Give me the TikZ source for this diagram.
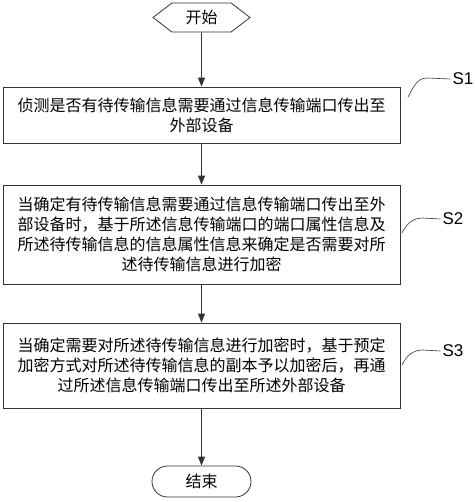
\documentclass[tikz,border=0pt]{standalone}
\usepackage{fontspec}
\setmainfont{Liberation Sans}
\newfontfamily\cjk{Noto Sans CJK SC}
\usetikzlibrary{shapes.symbols,shapes.misc,arrows.meta}

\begin{document}
\begin{tikzpicture}[
  x=1pt, y=-1pt,
  stepbox/.style={draw=black!80, line width=0.8pt, minimum width=397pt,
    inner sep=0pt, align=center, font=\cjk\fontsize{16}{20}\selectfont},
  terminal/.style={draw=black!80, line width=0.8pt, inner sep=0pt,
    font=\cjk\fontsize{16}{20}\selectfont},
  flow/.style={draw=black!80, line width=0.9pt,
    -{Triangle[length=9pt,width=7pt]}},
  tag/.style={draw=black!80, line width=0.6pt},
  steplabel/.style={font=\fontsize{17}{17}\selectfont, inner sep=2pt}
]
  \useasboundingbox (0,0) rectangle (474,502);

  % start and end
  \node[terminal, shape=signal, signal to=west and east,
    signal pointer angle=75, minimum width=97pt, minimum height=29pt]
    (start) at (201.5,17.5) {开始};
  \node[terminal, shape=rounded rectangle, minimum width=99pt,
    minimum height=31pt] (end) at (201.5,481.5) {结束};

  % the three steps
  \node[stepbox, minimum height=56pt] (b1) at (201.5,115)
    {侦测是否有待传输信息需要通过信息传输端口传出至\\外部设备};
  \node[stepbox, minimum height=99pt] (b2) at (201.5,234.5)
    {当确定有待传输信息需要通过信息传输端口传出至外\\
     部设备时，基于所述信息传输端口的端口属性信息及\\
     所述待传输信息的信息属性信息来确定是否需要对所\\
     述待传输信息进行加密};
  \node[stepbox, minimum height=85pt] (b3) at (201.5,365.5)
    {当确定需要对所述待传输信息进行加密时，基于预定\\
     加密方式对所述待传输信息的副本予以加密后，再通\\
     过所述信息传输端口传出至所述外部设备};

  % step labels
  \node[steplabel] (s1) at (463,79) {S1};
  \node[steplabel] (s2) at (453,219) {S2};
  \node[steplabel] (s3) at (453,351) {S3};

  \coordinate (t1) at (408,97);
  \coordinate (t2) at (402,233);
  \coordinate (t3) at (402,365);

  \draw[tag] (t1) to[out=60,in=180] ++(19,-19) -- (s1.west);
  \draw[tag] (t2) to[out=65,in=180] ++(21,-15) -- (s2.west);
  \draw[tag] (t3) to[out=65,in=180] ++(21,-15) -- (s3.west);

  % flow
  \draw[flow] (start) -- (b1);
  \draw[flow] (b1) -- (b2);
  \draw[flow] (b2) -- (b3);
  \draw[flow] (b3) -- (end);
\end{tikzpicture}
\end{document}
